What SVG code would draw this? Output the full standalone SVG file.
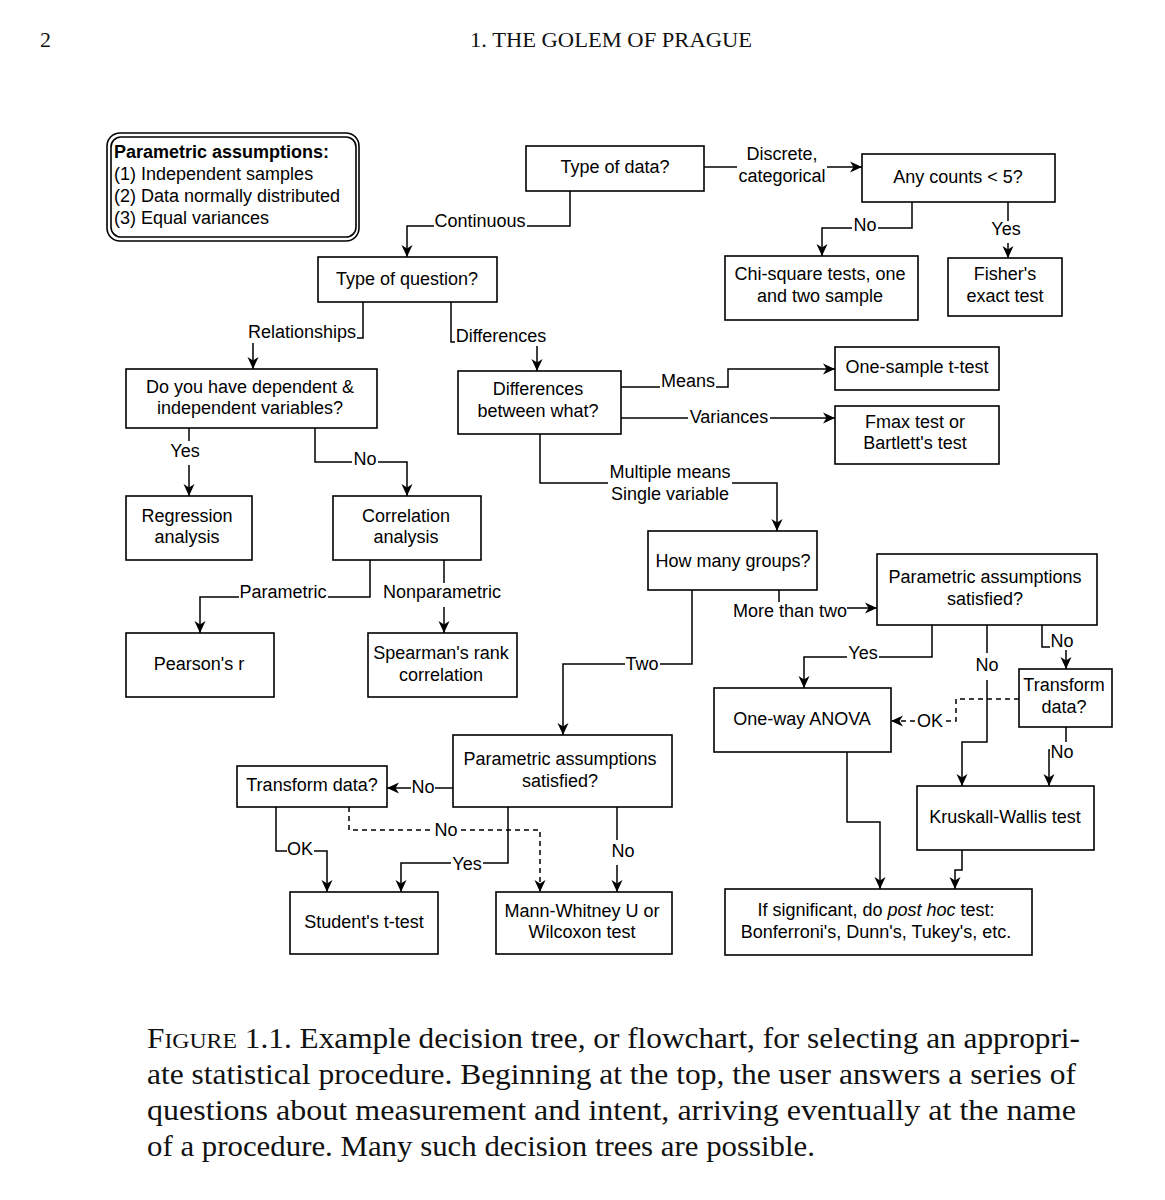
<svg xmlns="http://www.w3.org/2000/svg" width="1165" height="1200" viewBox="0 0 1165 1200">
<style>
.bg{fill:#fff}
.box{fill:#fff;stroke:#000;stroke-width:1.6}
.t{font-family:"Liberation Sans",Arial,sans-serif;font-size:18px;fill:#000;text-anchor:middle}
.tl{font-family:"Liberation Sans",Arial,sans-serif;font-size:18px;fill:#000}
.e{fill:none;stroke:#000;stroke-width:1.5;marker-end:url(#arr)}
.d{stroke-dasharray:5 4}
.lb{fill:#fff}
.serif{font-family:"Liberation Serif","Times New Roman",serif;fill:#111}
</style>
<defs>
<marker id="arr" viewBox="0 0 12 12" refX="12" refY="6" markerWidth="12" markerHeight="12" markerUnits="userSpaceOnUse" orient="auto">
<path d="M0,0.5 L12,6 L0,11.5 L3.5,6 Z" fill="#000"/>
</marker>
</defs>
<rect class="bg" x="0" y="0" width="1165" height="1200"/>

<g id="header">
<text class="serif" x="40" y="47" font-size="22">2</text>
<text class="serif" x="470" y="47" font-size="22" textLength="282" lengthAdjust="spacingAndGlyphs">1. THE GOLEM OF PRAGUE</text>
</g>

<g id="connectors">
<path class="e" d="M704,167 H862"/>
<path class="e" d="M570,191 V226 H407 V257"/>
<path class="e" d="M912,202 V228 H822 V256"/>
<path class="e" d="M1008,202 V258"/>
<path class="e" d="M363,302 V338 H253 V369"/>
<path class="e" d="M451,302 V342 H537 V371"/>
<path class="e" d="M189,428 V496"/>
<path class="e" d="M315,428 V462 H407 V496"/>
<path class="e" d="M370,560 V597 H200 V633"/>
<path class="e" d="M444,560 V633"/>
<path class="e" d="M621,387 H728 V369 H835"/>
<path class="e" d="M621,418 H835"/>
<path class="e" d="M540,434 V483 H777 V531"/>
<path class="e" d="M779,590 V608 H877"/>
<path class="e" d="M932,625 V657 H804 V688"/>
<path class="e" d="M987,625 V742 H962 V786"/>
<path class="e" d="M1042,625 V647 H1066 V669"/>
<path class="e d" d="M1019,699 H956 V721 H891"/>
<path class="e" d="M1066,727 V750 H1049 V786"/>
<path class="e" d="M847,752 V822 H880 V889"/>
<path class="e" d="M962,850 V870 H955 V889"/>
<path class="e" d="M692,590 V664 H563 V735"/>
<path class="e" d="M453,788 H387"/>
<path class="e" d="M276,807 V851 H327 V892"/>
<path class="e d" d="M349,807 V830 H540 V892"/>
<path class="e" d="M508,807 V863 H401 V892"/>
<path class="e" d="M617,807 V892"/>

<g id="labels">
<rect class="lb" x="737" y="146" width="90" height="42"/>
<text class="t" x="782" y="160">Discrete,</text>
<text class="t" x="782" y="182">categorical</text>
<rect class="lb" x="434" y="212" width="93" height="17"/>
<text class="t" x="480" y="227">Continuous</text>
<rect class="lb" x="852" y="216" width="26" height="17"/>
<text class="t" x="865" y="231">No</text>
<rect class="lb" x="989" y="221" width="33" height="22"/>
<text class="t" x="1006" y="235">Yes</text>
<rect class="lb" x="247" y="325" width="110" height="18"/>
<text class="t" x="302" y="338">Relationships</text>
<rect class="lb" x="455" y="328" width="92" height="18"/>
<text class="t" x="501" y="342">Differences</text>
<rect class="lb" x="169" y="441" width="33" height="24"/>
<text class="t" x="185" y="457">Yes</text>
<rect class="lb" x="352" y="450" width="26" height="18"/>
<text class="t" x="365" y="465">No</text>
<rect class="lb" x="239" y="584" width="89" height="18"/>
<text class="t" x="283" y="598">Parametric</text>
<rect class="lb" x="382" y="583" width="121" height="24"/>
<text class="t" x="442" y="598">Nonparametric</text>
<rect class="lb" x="660" y="373" width="56" height="18"/>
<text class="t" x="688" y="387">Means</text>
<rect class="lb" x="688" y="408" width="82" height="18"/>
<text class="t" x="729" y="423">Variances</text>
<rect class="lb" x="608" y="462" width="124" height="44"/>
<text class="t" x="670" y="478">Multiple means</text>
<text class="t" x="670" y="500">Single variable</text>
<rect class="lb" x="733" y="602" width="114" height="19"/>
<text class="t" x="790" y="617">More than two</text>
<rect class="lb" x="847" y="643" width="32" height="18"/>
<text class="t" x="863" y="659">Yes</text>
<rect class="lb" x="974" y="653" width="26" height="27"/>
<text class="t" x="987" y="671">No</text>
<rect class="lb" x="1050" y="631" width="25" height="19"/>
<text class="t" x="1062" y="647">No</text>
<rect class="lb" x="916" y="712" width="28" height="18"/>
<text class="t" x="930" y="727">OK</text>
<rect class="lb" x="1050" y="742" width="25" height="17"/>
<text class="t" x="1062" y="758">No</text>
<rect class="lb" x="625" y="655" width="35" height="18"/>
<text class="t" x="642" y="670">Two</text>
<rect class="lb" x="411" y="779" width="24" height="17"/>
<text class="t" x="423" y="793">No</text>
<rect class="lb" x="287" y="841" width="27" height="17"/>
<text class="t" x="300" y="855">OK</text>
<rect class="lb" x="434" y="822" width="24" height="17"/>
<text class="t" x="446" y="836">No</text>
<rect class="lb" x="451" y="855" width="32" height="17"/>
<text class="t" x="467" y="870">Yes</text>
<rect class="lb" x="611" y="840" width="26" height="25"/>
<text class="t" x="623" y="857">No</text>
</g>
</g>

<g id="n-legend">
<rect x="107" y="133" width="252" height="108" rx="13" fill="#fff" stroke="#000" stroke-width="1.6"/>
<rect x="111" y="137" width="245" height="100" rx="10" fill="none" stroke="#000" stroke-width="1.6"/>
<text class="tl" x="114" y="158" font-weight="bold">Parametric assumptions:</text>
<text class="tl" x="114" y="180">(1) Independent samples</text>
<text class="tl" x="114" y="202">(2) Data normally distributed</text>
<text class="tl" x="114" y="224">(3) Equal variances</text>
</g>
<g id="n-typedata"><rect class="box" x="526" y="146" width="178" height="45"/><text class="t" x="615" y="173">Type of data?</text></g>
<g id="n-anycounts"><rect class="box" x="862" y="154" width="193" height="48"/><text class="t" x="958" y="183">Any counts &lt; 5?</text></g>
<g id="n-chisq"><rect class="box" x="725" y="256" width="193" height="64"/><text class="t" x="820" y="280">Chi-square tests, one</text><text class="t" x="820" y="302">and two sample</text></g>
<g id="n-fisher"><rect class="box" x="948" y="258" width="114" height="58"/><text class="t" x="1005" y="280">Fisher's</text><text class="t" x="1005" y="302">exact test</text></g>
<g id="n-typeq"><rect class="box" x="318" y="257" width="179" height="45"/><text class="t" x="407" y="285">Type of question?</text></g>
<g id="n-dep"><rect class="box" x="126" y="369" width="251" height="59"/><text class="t" x="250" y="393">Do you have dependent &amp;</text><text class="t" x="250" y="414">independent variables?</text></g>
<g id="n-regr"><rect class="box" x="126" y="496" width="126" height="64"/><text class="t" x="187" y="522">Regression</text><text class="t" x="187" y="543">analysis</text></g>
<g id="n-corr"><rect class="box" x="333" y="496" width="148" height="64"/><text class="t" x="406" y="522">Correlation</text><text class="t" x="406" y="543">analysis</text></g>
<g id="n-pearson"><rect class="box" x="126" y="633" width="148" height="64"/><text class="t" x="199" y="670">Pearson's r</text></g>
<g id="n-spearman"><rect class="box" x="368" y="633" width="149" height="64"/><text class="t" x="441" y="659">Spearman's rank</text><text class="t" x="441" y="681">correlation</text></g>
<g id="n-diffwhat"><rect class="box" x="458" y="371" width="163" height="63"/><text class="t" x="538" y="395">Differences</text><text class="t" x="538" y="417">between what?</text></g>
<g id="n-onesample"><rect class="box" x="835" y="347" width="164" height="43"/><text class="t" x="917" y="373">One-sample t-test</text></g>
<g id="n-fmax"><rect class="box" x="835" y="406" width="164" height="58"/><text class="t" x="915" y="428">Fmax test or</text><text class="t" x="915" y="449">Bartlett's test</text></g>
<g id="n-howmany"><rect class="box" x="648" y="531" width="169" height="59"/><text class="t" x="733" y="567">How many groups?</text></g>
<g id="n-param2"><rect class="box" x="877" y="554" width="220" height="71"/><text class="t" x="985" y="583">Parametric assumptions</text><text class="t" x="985" y="605">satisfied?</text></g>
<g id="n-transform2"><rect class="box" x="1019" y="669" width="93" height="58"/><text class="t" x="1064" y="691">Transform</text><text class="t" x="1064" y="713">data?</text></g>
<g id="n-anova"><rect class="box" x="714" y="688" width="177" height="64"/><text class="t" x="802" y="725">One-way ANOVA</text></g>
<g id="n-kruskal"><rect class="box" x="917" y="786" width="177" height="64"/><text class="t" x="1005" y="823">Kruskall-Wallis test</text></g>
<g id="n-posthoc"><rect class="box" x="725" y="889" width="307" height="66"/><text class="t" x="876" y="916">If significant, do <tspan font-style="italic">post hoc</tspan> test:</text><text class="t" x="876" y="938">Bonferroni's, Dunn's, Tukey's, etc.</text></g>
<g id="n-param1"><rect class="box" x="453" y="735" width="219" height="72"/><text class="t" x="560" y="765">Parametric assumptions</text><text class="t" x="560" y="787">satisfied?</text></g>
<g id="n-transform1"><rect class="box" x="237" y="766" width="150" height="41"/><text class="t" x="312" y="791">Transform data?</text></g>
<g id="n-student"><rect class="box" x="290" y="892" width="148" height="62"/><text class="t" x="364" y="928">Student's t-test</text></g>
<g id="n-mann"><rect class="box" x="496" y="892" width="176" height="62"/><text class="t" x="582" y="917">Mann-Whitney U or</text><text class="t" x="582" y="938">Wilcoxon test</text></g>

<g id="caption">
<text class="serif" x="147" y="1048" font-size="29" textLength="933" lengthAdjust="spacingAndGlyphs">F<tspan font-size="22">IGURE</tspan> 1.1.  Example decision tree, or flowchart, for selecting an appropri-</text>
<text class="serif" x="147" y="1084" font-size="29" textLength="929" lengthAdjust="spacingAndGlyphs">ate statistical procedure.  Beginning at the top, the user answers a series of</text>
<text class="serif" x="147" y="1120" font-size="29" textLength="929" lengthAdjust="spacingAndGlyphs">questions about measurement and intent, arriving eventually at the name</text>
<text class="serif" x="147" y="1156" font-size="29" textLength="668" lengthAdjust="spacingAndGlyphs">of a procedure. Many such decision trees are possible.</text>
</g>
</svg>
